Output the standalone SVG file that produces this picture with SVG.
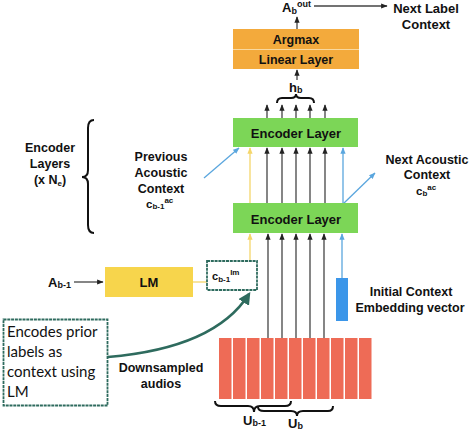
<svg xmlns="http://www.w3.org/2000/svg" width="474" height="436" viewBox="0 0 474 436">
<defs>
<style>
.t{font-family:"Liberation Sans",Arial,sans-serif;font-weight:bold;fill:#111;}
.r{font-family:Lato,"Open Sans",sans-serif;fill:#111;}
.k{stroke:#444;stroke-width:1.3;fill:none;}
.y{stroke:#F5D66A;stroke-width:1.3;fill:none;}
.bl{stroke:#5AA6DE;stroke-width:1.3;fill:none;}
.br{stroke:#111;stroke-width:2;fill:none;}
.au{fill:#EE6B56;}
</style>
<marker id="ak" viewBox="0 0 10 10" refX="9" refY="5" markerWidth="5" markerHeight="5" orient="auto"><path d="M0,1 L10,5 L0,9 z" fill="#222"/></marker>
<marker id="ay" viewBox="0 0 10 10" refX="9" refY="5" markerWidth="5" markerHeight="5" orient="auto"><path d="M0,1 L10,5 L0,9 z" fill="#F5D66A"/></marker>
<marker id="abl" viewBox="0 0 10 10" refX="9" refY="5" markerWidth="5" markerHeight="5" orient="auto"><path d="M0,1 L10,5 L0,9 z" fill="#5AA6DE"/></marker>
<marker id="ag" viewBox="0 0 10 10" refX="8" refY="5" markerWidth="5" markerHeight="5" orient="auto"><path d="M0,0 L10,5 L0,10 z" fill="#2E6B5E"/></marker>
</defs>
<rect width="474" height="436" fill="#fff"/>

<g id="connectors">
<line class="k" x1="314" y1="6" x2="387" y2="6" marker-end="url(#ak)"/>
<line class="k" x1="297" y1="29" x2="297" y2="17" marker-end="url(#ak)"/>
<line class="k" x1="297" y1="80" x2="297" y2="70" marker-end="url(#ak)"/>
<g>
<line class="k" x1="267" y1="118" x2="267" y2="105" marker-end="url(#ak)"/>
<line class="k" x1="282" y1="118" x2="282" y2="105" marker-end="url(#ak)"/>
<line class="k" x1="296" y1="118" x2="296" y2="105" marker-end="url(#ak)"/>
<line class="k" x1="310" y1="118" x2="310" y2="105" marker-end="url(#ak)"/>
<line class="k" x1="325" y1="118" x2="325" y2="105" marker-end="url(#ak)"/>
</g>
<g>
<line class="k" x1="267" y1="203" x2="267" y2="148" marker-end="url(#ak)"/>
<line class="k" x1="282" y1="203" x2="282" y2="148" marker-end="url(#ak)"/>
<line class="k" x1="296" y1="203" x2="296" y2="148" marker-end="url(#ak)"/>
<line class="k" x1="310" y1="203" x2="310" y2="148" marker-end="url(#ak)"/>
<line class="k" x1="325" y1="203" x2="325" y2="148" marker-end="url(#ak)"/>
</g>
<g>
<line class="k" x1="268" y1="338" x2="268" y2="234" marker-end="url(#ak)"/>
<line class="k" x1="282" y1="338" x2="282" y2="234" marker-end="url(#ak)"/>
<line class="k" x1="296" y1="338" x2="296" y2="234" marker-end="url(#ak)"/>
<line class="k" x1="310" y1="338" x2="310" y2="234" marker-end="url(#ak)"/>
<line class="k" x1="324" y1="338" x2="324" y2="234" marker-end="url(#ak)"/>
</g>
<line class="y" x1="250" y1="203" x2="250" y2="148" marker-end="url(#ay)"/>
<line class="y" x1="250" y1="261" x2="250" y2="234" marker-end="url(#ay)"/>
<line class="y" x1="193" y1="282" x2="207" y2="282"/>
<line class="bl" x1="343" y1="203" x2="343" y2="148" marker-end="url(#abl)"/>
<line class="bl" x1="342" y1="278" x2="342" y2="234" marker-end="url(#abl)"/>
<line class="bl" x1="204" y1="178" x2="239" y2="148" marker-end="url(#abl)"/>
<line class="bl" x1="343" y1="204" x2="375" y2="173" marker-end="url(#abl)"/>
<line class="k" x1="74" y1="282" x2="103" y2="282" marker-end="url(#ak)"/>
<path d="M108,357 Q215,348 249,294" stroke="#2E6B5E" stroke-width="2.5" fill="none" marker-end="url(#ag)"/>
</g>

<g id="aout"><text class="t" x="282" y="12" font-size="13">A<tspan font-size="9" dy="2">b</tspan><tspan font-size="9" dy="-7">out</tspan></text></g>
<g id="next-label"><text class="t" font-size="13" text-anchor="middle"><tspan x="426" y="13">Next Label</tspan><tspan x="426" y="29">Context</tspan></text></g>

<g id="output-block">
<rect x="233" y="29" width="126" height="40" fill="#F3AA3C"/>
<line x1="233" y1="49.5" x2="359" y2="49.5" stroke="#F9D9A0" stroke-width="1"/>
<text class="t" x="296" y="44" font-size="12.5" text-anchor="middle">Argmax</text>
<text class="t" x="296" y="64" font-size="12.5" text-anchor="middle">Linear Layer</text>
</g>

<g id="hb">
<text class="t" x="289" y="92" font-size="13">h<tspan font-size="9" dy="1">b</tspan></text>
<path class="br" stroke-width="1.5" d="M277,103 Q277,98 282,98 L291,98 Q296,98 296,94 Q296,98 301,98 L309,98 Q314,98 314,103"/>
</g>

<g id="encoder-upper">
<rect x="233" y="118" width="125" height="29" fill="#7CD657"/>
<text class="t" x="296" y="138" font-size="13" text-anchor="middle">Encoder Layer</text>
</g>
<g id="encoder-lower">
<rect x="233" y="203" width="125" height="30" fill="#7CD657"/>
<text class="t" x="296" y="224" font-size="13" text-anchor="middle">Encoder Layer</text>
</g>

<g id="encoder-layers-label">
<text class="t" font-size="12.5" text-anchor="middle"><tspan x="50" y="152">Encoder</tspan><tspan x="50" y="168">Layers</tspan><tspan x="50" y="184">(x N<tspan font-size="8" dy="2">e</tspan><tspan dy="-2">)</tspan></tspan></text>
<path class="br" d="M94,120 Q88,120 88,128 L88,170 Q88,177 82,177 Q88,177 88,184 L88,225 Q88,233 94,233"/>
</g>

<g id="prev-context">
<text class="t" font-size="12.5" text-anchor="middle"><tspan x="161" y="161">Previous</tspan><tspan x="161" y="177">Acoustic</tspan><tspan x="161" y="193">Context</tspan></text>
<text class="t" x="146" y="208" font-size="11.5">c<tspan font-size="8" dy="1">b-1</tspan><tspan font-size="8" dy="-6">ac</tspan></text>
</g>

<g id="next-context">
<text class="t" font-size="12.5" text-anchor="middle"><tspan x="427" y="164">Next Acoustic</tspan><tspan x="427" y="179">Context</tspan></text>
<text class="t" x="416" y="195" font-size="11.5">c<tspan font-size="8" dy="1">b</tspan><tspan font-size="8" dy="-6">ac</tspan></text>
</g>

<g id="ab1"><text class="t" x="48" y="287" font-size="13">A<tspan font-size="9" dy="1">b-1</tspan></text></g>

<g id="lm">
<rect x="105" y="267" width="88" height="30" fill="#F7D54C"/>
<text class="t" x="149" y="287" font-size="13" text-anchor="middle">LM</text>
</g>

<g id="clm">
<rect x="207" y="261" width="50" height="29" fill="#fff" stroke="#2E6B5E" stroke-width="1.8" stroke-dasharray="3,0.8"/>
<text class="t" x="212" y="280" font-size="11">c<tspan font-size="8" dy="2">b-1</tspan><tspan font-size="8" dy="-7">lm</tspan></text>
</g>

<g id="embedding">
<rect x="336" y="278" width="12" height="43" fill="#3B96E9"/>
<text class="t" font-size="12.5" text-anchor="middle"><tspan x="411" y="296">Initial Context</tspan><tspan x="410" y="312">Embedding vector</tspan></text>
</g>

<g id="note">
<rect x="3.5" y="319.5" width="104" height="86" fill="#fff" stroke="#2E6B5E" stroke-width="1.8" stroke-dasharray="3,0.8"/>
<text class="r" font-size="15"><tspan x="7" y="337">Encodes prior</tspan><tspan x="7" y="357">labels as</tspan><tspan x="7" y="377">context using</tspan><tspan x="7" y="397">LM</tspan></text>
</g>

<g id="audios">
<text class="t" font-size="12.5" text-anchor="middle"><tspan x="161" y="372">Downsampled</tspan><tspan x="161" y="388">audios</tspan></text>
<rect class="au" x="219" y="338" width="12.5" height="61"/>
<rect class="au" x="233" y="338" width="12.5" height="61"/>
<rect class="au" x="247" y="338" width="12.5" height="61"/>
<rect class="au" x="261" y="338" width="12.5" height="61"/>
<rect class="au" x="275" y="338" width="12.5" height="61"/>
<rect class="au" x="289" y="338" width="12.5" height="61"/>
<rect class="au" x="303" y="338" width="12.5" height="61"/>
<rect class="au" x="317" y="338" width="12.5" height="61"/>
<rect class="au" x="331" y="338" width="12.5" height="61"/>
<rect class="au" x="345" y="338" width="12.5" height="61"/>
<rect class="au" x="359" y="338" width="12.5" height="61"/>
</g>

<g id="ub1">
<path class="br" stroke-width="1.8" d="M215,401 Q215,406 221,406 L248,406 Q254,406 254,412 Q254,406 260,406 L285,406 Q291,406 291,401"/>
<text class="t" x="243" y="425" font-size="13">U<tspan font-size="9" dy="1">b-1</tspan></text>
</g>
<g id="ub">
<path class="br" stroke-width="1.8" d="M258,407 Q258,411 264,411 L291,411 Q297,411 297,416 Q297,411 303,411 L328,411 Q333,411 333,406"/>
<text class="t" x="288" y="428" font-size="13">U<tspan font-size="9" dy="1">b</tspan></text>
</g>
</svg>
